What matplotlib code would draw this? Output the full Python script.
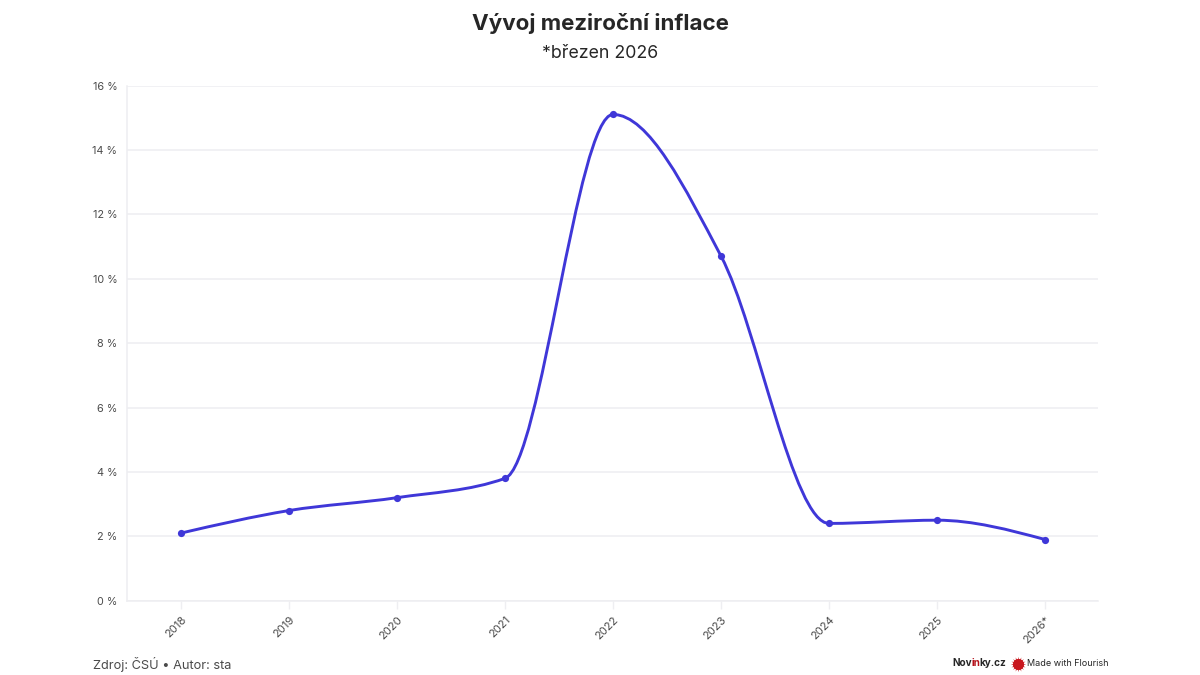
import numpy as np
import matplotlib
matplotlib.use("Agg")
import matplotlib.pyplot as plt
from matplotlib.path import Path
from matplotlib.patches import PathPatch

years = ["2018", "2019", "2020", "2021", "2022", "2023", "2024", "2025", "2026*"]
inflation = [2.1, 2.8, 3.2, 3.8, 15.1, 10.7, 2.4, 2.5, 1.9]
y_ticks = [0, 2, 4, 6, 8, 10, 12, 14, 16]

LINE = "#3f37d8"
GRID = "#eeeef1"
TEXT = "#4a4a4a"
DARK = "#262626"

plt.rcParams["font.family"] = ["Inter", "DejaVu Sans"]


def monotone_path(x, y):
    # monotone cubic through the points, written as bezier segments
    x = np.asarray(x, float)
    y = np.asarray(y, float)
    h = np.diff(x)
    s = np.diff(y) / h
    t = np.zeros(len(x))
    for i in range(1, len(x) - 1):
        p = (s[i - 1] * h[i] + s[i] * h[i - 1]) / (h[i - 1] + h[i])
        t[i] = (np.sign(s[i - 1]) + np.sign(s[i])) * min(abs(s[i - 1]), abs(s[i]), 0.5 * abs(p))
    t[0] = (3 * s[0] - t[1]) / 2
    t[-1] = (3 * s[-1] - t[-2]) / 2
    verts = [(x[0], y[0])]
    codes = [Path.MOVETO]
    for i in range(len(h)):
        d = h[i] / 3
        verts += [(x[i] + d, y[i] + d * t[i]), (x[i + 1] - d, y[i + 1] - d * t[i + 1]), (x[i + 1], y[i + 1])]
        codes += [Path.CURVE4] * 3
    return Path(verts, codes)


fig = plt.figure(figsize=(12, 6.75), dpi=100, facecolor="white")
ax = fig.add_axes([127 / 1200, 1 - 600.7 / 675, (1098 - 127) / 1200, (600.7 - 85.5) / 675])

pos = np.arange(len(years))
ax.add_patch(PathPatch(monotone_path(pos, inflation), fc="none", ec=LINE, lw=2.1, capstyle="round", zorder=3))
ax.plot(pos, inflation, "o", color=LINE, ms=5.2, mew=0, zorder=4)

ax.set_xlim(-0.5, 8.49)
ax.set_ylim(0, 16)
ax.set_yticks(y_ticks)
ax.set_yticklabels([f"{v} %" for v in y_ticks])
ax.set_xticks(pos)
ax.set_xticklabels(years, rotation=45, ha="right", rotation_mode="anchor")
ax.tick_params(axis="y", length=0, pad=7, labelsize=7.8, labelcolor=TEXT)
ax.tick_params(axis="x", length=6, width=1, color=GRID, pad=4, labelsize=8.1, labelcolor=TEXT)
ax.grid(axis="y", color=GRID, lw=1.1)
ax.set_axisbelow(True)
for side in ["top", "right"]:
    ax.spines[side].set_visible(False)
for side in ["left", "bottom"]:
    ax.spines[side].set_color(GRID)
    ax.spines[side].set_linewidth(1.1)

fig.text(0.5, 1 - 23.5 / 675, "Vývoj meziroční inflace", ha="center", va="center",
         fontsize=16.1, fontweight="bold", color=DARK)
fig.text(0.5, 1 - 54 / 675, "*březen 2026", ha="center", va="center", fontsize=12.8, color=DARK)
fig.text(93 / 1200, 1 - 665 / 675, "Zdroj: ČSÚ • Autor: sta", ha="left", va="center", fontsize=9.2, color=TEXT)

# brand line in the lower right corner
brand_y = 1 - 663.5 / 675
fig.canvas.draw()
rend = fig.canvas.get_renderer()
bx = 952 / 1200
for part, col in [("Nov", DARK), ("in", "#b5121b"), ("ky.cz", DARK)]:
    t = fig.text(bx, brand_y, part, ha="left", va="center", fontsize=7.2, fontweight="bold", color=col)
    bx += t.get_window_extent(rend).width / 1200 - 0.0004
fig.text(1027 / 1200, brand_y, "Made with Flourish", ha="left", va="center", fontsize=6.5, color=DARK)
fig.add_artist(plt.Line2D([1018 / 1200], [brand_y], transform=fig.transFigure, marker=(16, 1, 0),
                          ms=11, color="#c8161d", mew=0, ls="none"))
fig.add_artist(plt.Line2D([1018 / 1200], [brand_y], transform=fig.transFigure, marker="o",
                          ms=8, color="#c8161d", mew=0, ls="none"))

fig.savefig("out.png", dpi=100)
